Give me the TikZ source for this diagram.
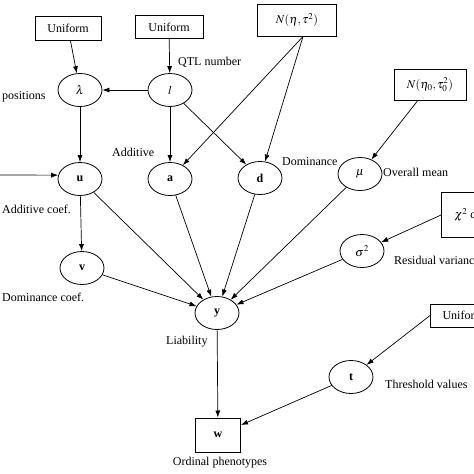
\documentclass[tikz,border=0pt]{standalone}
\usepackage{mathptmx}
\usepackage{fontspec}
\setmainfont{Liberation Serif}
\usetikzlibrary{shapes.geometric,arrows.meta}
\tikzset{
  ell/.style={ellipse, draw, line width=0.8pt, minimum width=44pt, minimum height=33pt, inner sep=0pt, font=\fontsize{12}{14}\selectfont},
  boxn/.style={rectangle, draw, line width=1pt, inner sep=0pt, font=\fontsize{12}{14}\selectfont},
  lbl/.style={anchor=west, inner sep=0pt, font=\fontsize{12}{14}\selectfont},
  arr/.style={-{Latex[length=7pt,width=5pt]}, line width=0.7pt}
}
\begin{document}
\begin{tikzpicture}[x=1pt,y=-1pt]
\useasboundingbox (0,0) rectangle (474,474);
\clip (0,0) rectangle (474,474);
% boxes
\node[boxn, minimum width=66pt, minimum height=24pt] (U1) at (68,28) {Uniform};
\node[boxn, minimum width=68pt, minimum height=23pt] (U2) at (169,27) {Uniform};
\node[boxn, minimum width=79pt, minimum height=32pt] (N1) at (297,20) {$N(\eta,\tau^2)$};
\node[boxn, minimum width=72pt, minimum height=31pt] (N0) at (430,85) {$N(\eta_0,\tau_0^2)$};
\node[boxn, minimum height=45pt, anchor=west, inner xsep=13pt] (chi) at (441,215) {$\chi^2$ df};
\node[boxn, minimum height=23pt, anchor=west, inner xsep=12pt] (U3) at (430,315.5) {Uniform};
\node[boxn, minimum width=45pt, minimum height=34pt] (w) at (218,435) {\textbf{w}};
% ellipses
\node[ell] (lam) at (80,90) {$\lambda$};
\node[ell] (l) at (170,90) {$l$};
\node[ell] (u) at (80,179) {\textbf{u}};
\node[ell] (a) at (170,179) {\textbf{a}};
\node[ell] (d) at (260,178) {\textbf{d}};
\node[ell] (mu) at (360,174) {$\mu$};
\node[ell] (v) at (82,268) {\textbf{v}};
\node[ell] (sig) at (362,251) {$\sigma^2$};
\node[ell] (y) at (217,313) {\textbf{y}};
\node[ell] (t) at (351,377) {\textbf{t}};
\coordinate (lin) at (0,175);
% labels
\node[lbl] (qtl) at (178,62) {QTL number};
\node[lbl] (pos) at (2,97) {positions};
\node[lbl] (add) at (112,152) {Additive};
\node[lbl] (dom) at (282,162) {Dominance};
\node[lbl] (om) at (383,172) {Overall mean};
\node[lbl] (addc) at (2,209) {Additive coef.};
\node[lbl] (domc) at (2,297) {Dominance coef.};
\node[lbl] (res) at (394,260) {Residual variance};
\node[lbl] (lia) at (166,342) {Liability};
\node[lbl] (thr) at (385,384) {Threshold values};
\node[lbl, anchor=center] (ord) at (220,463) {Ordinal phenotypes};
% arrows
\draw[arr] (U1) -- (lam);
\draw[arr] (U2) -- (l);
\draw[arr] (l) -- (lam);
\draw[arr] (lam) -- (u);
\draw[arr] (l) -- (a);
\draw[arr] (l) -- (d);
\draw[arr] ([xshift=6pt]N1.south) -- (a);
\draw[arr] ([xshift=6pt]N1.south) -- (d);
\draw[arr] (N0) -- (mu);
\draw[arr] (lin) -- (u.170);
\draw[arr] (u) -- (v);
\draw[arr] (u) -- (y);
\draw[arr] (a) -- (y);
\draw[arr] (d) -- (y);
\draw[arr] (mu) -- (y);
\draw[arr] (v) -- (y);
\draw[arr] (sig) -- (y);
\draw[arr] (chi.west) -- (sig);
\draw[arr] (y) -- (w);
\draw[arr] (t) -- (w);
\draw[arr] (U3.west) -- (t);
\end{tikzpicture}
\end{document}
